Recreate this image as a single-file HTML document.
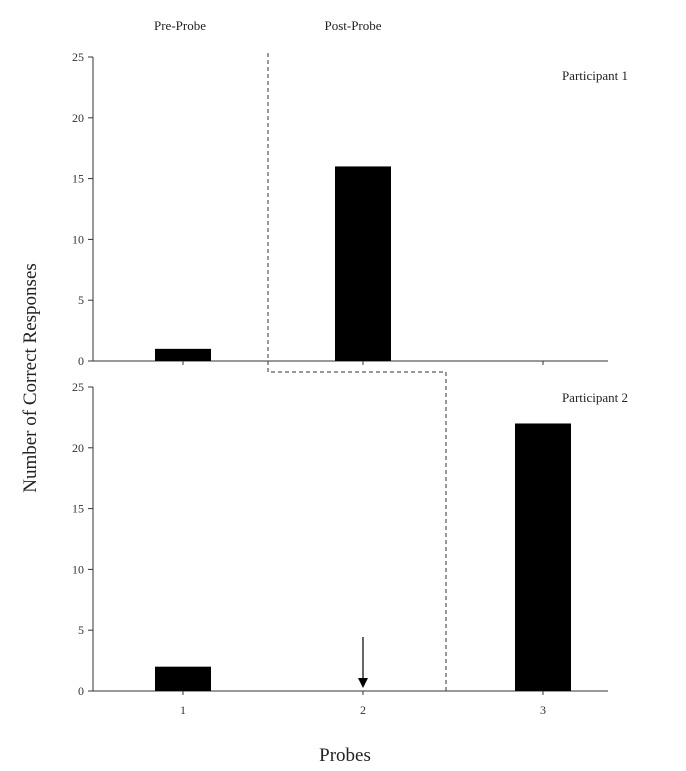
<!DOCTYPE html>
<html><head><meta charset="utf-8"><style>body{margin:0;background:#fff}svg{display:block;font-family:"Liberation Serif",serif}</style></head>
<body>
<svg id="c" width="686" height="771"></svg>
<script>
const categories=["1","2","3"];
const p1Values=[1,16,0];
const p2Values=[2,0,22];
const yTicks=[0,5,10,15,20,25];
const svg=document.getElementById('c');
const NS='http://www.w3.org/2000/svg';
function mk(t,a,txt){const e=document.createElementNS(NS,t);for(const k in a)e.setAttribute(k,a[k]);if(txt!==undefined)e.textContent=txt;svg.appendChild(e);return e;}
const x0=93,x1=608;
function xs(i){return 183+i*180;}
const panels=[{vals:p1Values,y0:361,y25:57,name:'participant-1',label:'Participant 1',ly:80},{vals:p2Values,y0:691,y25:387,name:'participant-2',label:'Participant 2',ly:402}];
panels.forEach((p,pi)=>{
  const ys=v=>p.y0-(p.y0-p.y25)*v/25;
  let e=mk('line',{x1:x0,y1:p.y25,x2:x0,y2:p.y0,stroke:'#333','stroke-width':1});
  
  e=mk('line',{x1:x0,y1:p.y0,x2:x1,y2:p.y0,stroke:'#333','stroke-width':1});
  
  yTicks.forEach(t=>{
    mk('line',{x1:x0-5,y1:ys(t),x2:x0,y2:ys(t),stroke:'#333'});
    e=mk('text',{x:x0-9,y:ys(t)+4,'text-anchor':'end','font-size':12,fill:'#333'},t);
    
  });
  categories.forEach((c,i)=>{
    mk('line',{x1:xs(i),y1:p.y0,x2:xs(i),y2:p.y0+4,stroke:'#333'});
    if(p.vals[i]>0){
      e=mk('rect',{x:xs(i)-28,y:ys(p.vals[i]),width:56,height:p.y0-ys(p.vals[i]),fill:'#000'});
      
    }
    if(pi===1){
      e=mk('text',{x:xs(i),y:714,'text-anchor':'middle','font-size':12,fill:'#333'},c);
      
    }
  });
  e=mk('text',{x:595,y:p.ly,'text-anchor':'middle','font-size':13,fill:'#222'},p.label);
  
});
let e=mk('path',{d:'M268 53 V372 H446 V691',fill:'none',stroke:'#333','stroke-width':1,'stroke-dasharray':'4,3'});

e=mk('line',{x1:363,y1:637,x2:363,y2:680,stroke:'#000','stroke-width':1.2});

mk('polygon',{points:'358,678 368,678 363,688',fill:'#000'});
e=mk('text',{x:180,y:30,'text-anchor':'middle','font-size':13,fill:'#222'},'Pre-Probe');

e=mk('text',{x:353,y:30,'text-anchor':'middle','font-size':13,fill:'#222'},'Post-Probe');

e=mk('text',{x:345,y:761,'text-anchor':'middle','font-size':19,fill:'#222'},'Probes');

e=mk('text',{x:0,y:0,'text-anchor':'middle','font-size':19,fill:'#222',transform:'translate(36,378) rotate(-90)'},'Number of Correct Responses');

</script>
</body></html>
